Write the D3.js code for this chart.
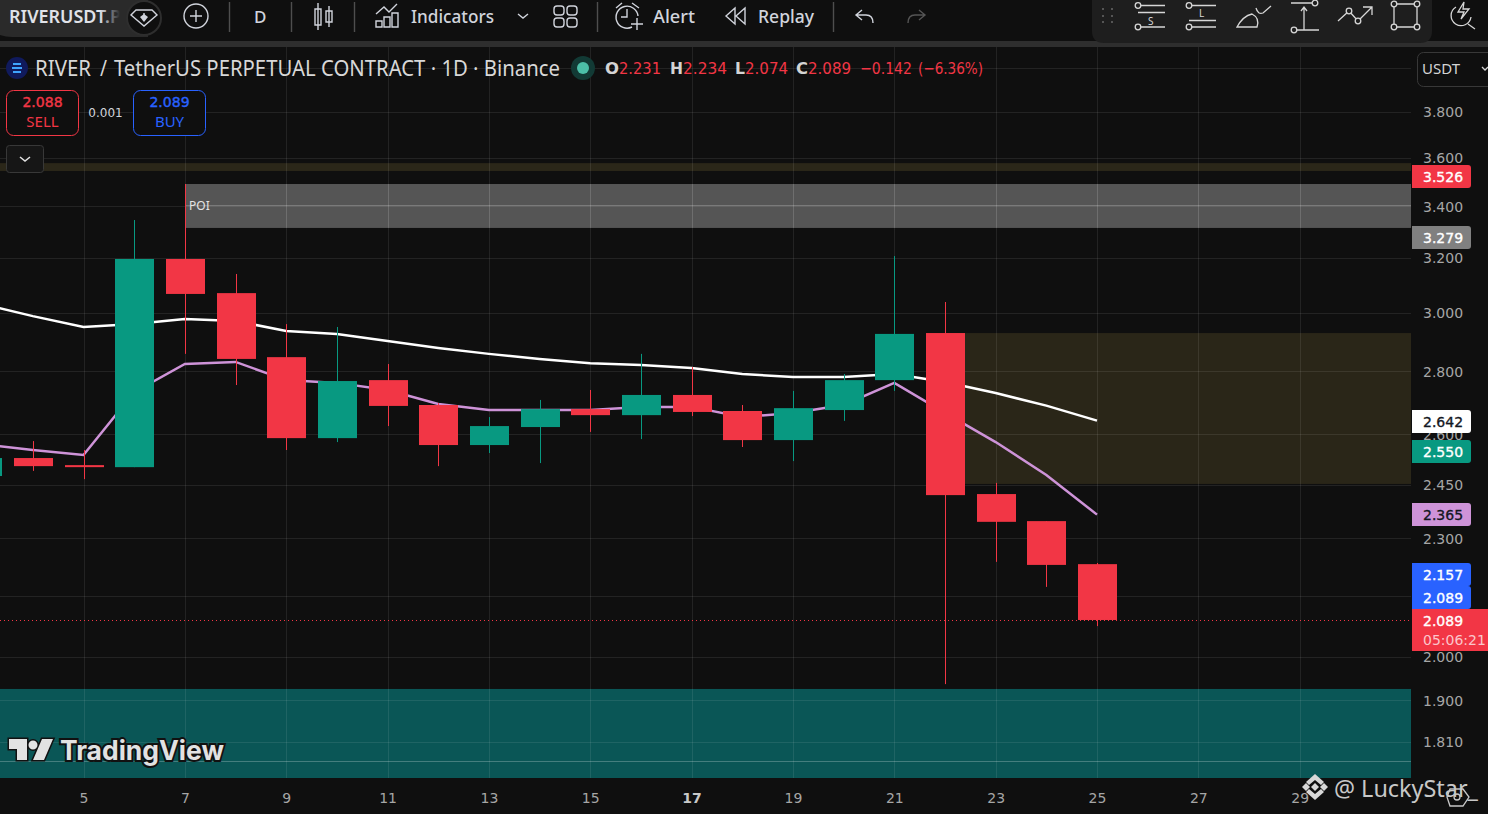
<!DOCTYPE html>
<html>
<head>
<meta charset="utf-8">
<title>RIVERUSDT.P</title>
<script src="https://cdn.jsdelivr.net/npm/d3@7"></script>
<style>
  html, body { margin: 0; padding: 0; background: #0f0f0f; overflow: hidden; }
  svg { display: block; font-family: "Noto Sans", sans-serif; }
  .num { font-family: "DejaVu Sans", sans-serif; }
</style>
</head>
<body>
<svg id="chart" width="1488" height="814"></svg>
<script>
// Daily candles
const days   = [3, 4, 5, 6, 7, 8, 9, 10, 11, 12, 13, 14, 15, 16, 17, 18, 19, 20, 21, 22, 23, 24, 25];
const opens  = [2.475, 2.528, 2.507, 2.501, 3.196, 3.070, 2.847, 2.588, 2.771, 2.691, 2.567, 2.622, 2.678, 2.659, 2.723, 2.672, 2.582, 2.675, 2.771, 2.929, 2.423, 2.347, 2.231];
const highs  = [2.528, 2.579, 2.552, 3.346, 3.491, 3.140, 2.960, 2.950, 2.824, 2.697, 2.653, 2.707, 2.739, 2.858, 2.814, 2.691, 2.736, 2.791, 3.207, 3.038, 2.455, 2.347, 2.234];
const lows   = [2.475, 2.490, 2.466, 2.501, 2.858, 2.755, 2.552, 2.576, 2.625, 2.504, 2.543, 2.513, 2.607, 2.585, 2.656, 2.561, 2.519, 2.641, 2.736, 1.937, 2.237, 2.172, 2.074];
const closes = [2.528, 2.504, 2.501, 3.196, 3.067, 2.841, 2.588, 2.768, 2.688, 2.567, 2.625, 2.678, 2.659, 2.723, 2.669, 2.582, 2.681, 2.771, 2.926, 2.420, 2.345, 2.229, 2.089];

// Moving averages
const slowMa = [3.031, 2.988, 2.950, 2.960, 2.978, 2.971, 2.936, 2.926, 2.902, 2.878, 2.858, 2.841, 2.827, 2.821, 2.811, 2.791, 2.781, 2.781, 2.791, 2.765, 2.729, 2.689, 2.642];
const fastMa = [2.570, 2.552, 2.537, 2.732, 2.824, 2.831, 2.771, 2.762, 2.739, 2.694, 2.675, 2.675, 2.675, 2.685, 2.685, 2.653, 2.666, 2.691, 2.762, 2.666, 2.576, 2.478, 2.365];

// Axes
const priceTicks = [3.8, 3.6, 3.4, 3.2, 3.0, 2.8, 2.6, 2.45, 2.3, 2.0, 1.9, 1.81];
const gridPrices = [4.0, 3.8, 3.6, 3.4, 3.2, 3.0, 2.8, 2.6, 2.45, 2.3, 2.15, 2.0, 1.9, 1.81];
const dayTicks = [5, 7, 9, 11, 13, 15, 17, 19, 21, 23, 25, 27, 29];

// Zones as [top price, bottom price, first day]
const bandZone = [3.578, 3.545];
const poiZone = [3.491, 3.315, 7];
const supplyZone = [2.929, 2.452, 22];
const demandZone = [1.926, 1.734];
const poiMid = 3.400;
const demandLine = 1.77;
const lastPrice = 2.089;

// Price tags on the right scale
const tagPrices = ["3.526", "3.279", "2.642", "2.550", "2.365", "2.157", "2.089"];
const tagFills  = ["#f23645", "#808080", "#ffffff", "#089981", "#ce93d8", "#2962ff", "#2962ff"];
const tagInk    = ["#fff", "#fff", "#131722", "#fff", "#131722", "#fff", "#fff"];
const tagTops   = [165, 226, 410, 440, 503, 563, 586];

// Title pieces, laid out the way the header spaces them
const titleParts = ["RIVER", "/", "TetherUS PERPETUAL CONTRACT · 1D · Binance"];
const titleX = [35, 100, 114];
const titleW = [56, 7, 446];

const RED = "#f23645", GREEN = "#089981", INK = "#d1d4dc", PLOT_R = 1411;

const svg = d3.select("#chart");
const x = d3.scaleLinear().domain([5, 25]).range([83.5, 1097]);
const y = d3.scaleLog().domain([3.8, 1.81]).range([112, 741.7]);
const px = d => Math.round(x(d)) + 0.5;

svg.append("rect").attr("width", 1488).attr("height", 814).attr("fill", "#0f0f0f");
const defs = svg.append("defs");
defs.append("clipPath").attr("id", "plot")
  .append("rect").attr("x", 0).attr("y", 47).attr("width", PLOT_R).attr("height", 731);
const fade = defs.append("linearGradient").attr("id", "tickerFade").attr("gradientUnits", "userSpaceOnUse")
  .attr("x1", 100).attr("x2", 120).attr("y1", 0).attr("y2", 0);
fade.append("stop").attr("offset", 0).attr("stop-color", "#2a2a2a").attr("stop-opacity", 0);
fade.append("stop").attr("offset", 1).attr("stop-color", "#2a2a2a").attr("stop-opacity", 1);

const plot = svg.append("g").attr("clip-path", "url(#plot)");

// zones go under the grid so the grid still shows through them
function zone(top, bottom, fromX, fill) {
  plot.append("rect").attr("x", fromX).attr("width", PLOT_R - fromX)
    .attr("y", y(top)).attr("height", y(bottom) - y(top)).attr("fill", fill);
}
zone(bandZone[0], bandZone[1], 0, "#2b2719");
zone(poiZone[0], poiZone[1], px(poiZone[2]), "#555555");
zone(supplyZone[0], supplyZone[1], x(supplyZone[2]), "#2a2618");
zone(demandZone[0], demandZone[1], 0, "#0a5656");

plot.selectAll(".hgrid").data(gridPrices).enter().append("line").attr("class", "hgrid")
  .attr("x1", 0).attr("x2", PLOT_R)
  .attr("y1", d => Math.round(y(d)) + 0.5).attr("y2", d => Math.round(y(d)) + 0.5)
  .attr("stroke", "#fff").attr("stroke-opacity", 0.085);
plot.selectAll(".vgrid").data(dayTicks).enter().append("line").attr("class", "vgrid")
  .attr("x1", px).attr("x2", px)
  .attr("y1", 47).attr("y2", 778)
  .attr("stroke", "#fff").attr("stroke-opacity", 0.085);
// the grey box lifts the grid a little more than the dark background does
plot.selectAll(".poigrid").data(dayTicks.filter(d => d > poiZone[2])).enter().append("line").attr("class", "poigrid")
  .attr("x1", px).attr("x2", px)
  .attr("y1", y(poiZone[0])).attr("y2", y(poiZone[1]))
  .attr("stroke", "#fff").attr("stroke-opacity", 0.07);

plot.append("line").attr("x1", px(poiZone[2])).attr("x2", PLOT_R)
  .attr("y1", Math.round(y(poiMid)) - 0.5).attr("y2", Math.round(y(poiMid)) - 0.5)
  .attr("stroke", "#fff").attr("stroke-opacity", 0.22);
plot.append("line").attr("x1", 0).attr("x2", PLOT_R)
  .attr("y1", Math.round(y(demandLine)) + 0.5).attr("y2", Math.round(y(demandLine)) + 0.5)
  .attr("stroke", "#fff").attr("stroke-opacity", 0.24);

plot.append("text").attr("x", px(poiZone[2]) + 3.5).attr("y", 209.5)
  .attr("font-size", 12).attr("fill", "#e4e4e4").text("POI");

// last price
plot.append("line").attr("x1", 0).attr("x2", PLOT_R)
  .attr("y1", Math.round(y(lastPrice)) + 0.5).attr("y2", Math.round(y(lastPrice)) + 0.5)
  .attr("stroke", RED).attr("stroke-width", 1).attr("stroke-dasharray", "1 3");

// moving averages
const maLine = d3.line().x((d, i) => x(days[i])).y(d => y(d));
plot.append("path").attr("d", maLine(slowMa)).attr("fill", "none").attr("stroke", "#ffffff").attr("stroke-width", 2.5);
plot.append("path").attr("d", maLine(fastMa)).attr("fill", "none").attr("stroke", "#ce93d8").attr("stroke-width", 2.5);

// candles
const bodyW = 39;
const candles = plot.selectAll(".candle").data(days).enter().append("g").attr("class", "candle");
candles.append("line")
  .attr("x1", px).attr("x2", px)
  .attr("y1", (d, i) => y(highs[i])).attr("y2", (d, i) => y(lows[i]))
  .attr("stroke", (d, i) => closes[i] >= opens[i] ? GREEN : RED);
candles.append("rect")
  .attr("x", d => px(d) - bodyW / 2).attr("width", bodyW)
  .attr("y", (d, i) => y(Math.max(opens[i], closes[i])))
  .attr("height", (d, i) => Math.abs(y(opens[i]) - y(closes[i])))
  .attr("fill", (d, i) => closes[i] >= opens[i] ? GREEN : RED);

// axes
const priceAxis = svg.append("g").attr("class", "num").attr("transform", "translate(1423,0.5)")
  .call(d3.axisRight(y).tickValues(priceTicks).tickFormat(d3.format(".3f")).tickSize(0).tickPadding(0));
priceAxis.select(".domain").remove();
priceAxis.selectAll("text").attr("font-size", 14).attr("fill", "#a6a6a6");
priceAxis.attr("font-family", null);

const timeAxis = svg.append("g").attr("class", "num").attr("transform", "translate(0,793)")
  .call(d3.axisBottom(x).tickValues(dayTicks).tickFormat(d3.format("d")).tickSize(0).tickPadding(0));
timeAxis.select(".domain").remove();
timeAxis.selectAll("text").attr("font-size", 14)
  .attr("font-weight", d => d === 17 ? "bold" : null)
  .attr("fill", d => d === 17 ? "#c8c8c8" : "#a6a6a6");
timeAxis.attr("font-family", null);

// price tags
const tags = svg.selectAll(".tag").data(tagPrices).enter().append("g").attr("class", "tag num");
tags.append("path")
  .attr("d", (d, i) => `M1412 ${tagTops[i]}H1468q3 0 3 3V${tagTops[i] + 20}q0 3 -3 3H1412Z`)
  .attr("fill", (d, i) => tagFills[i]);
tags.append("text").attr("x", 1423).attr("y", (d, i) => tagTops[i] + 17)
  .attr("font-size", 14).attr("stroke-width", 0.35)
  .attr("stroke", (d, i) => tagInk[i]).attr("fill", (d, i) => tagInk[i]).text(d => d);

svg.append("rect").attr("x", 1412).attr("y", 609).attr("width", 76).attr("height", 42).attr("fill", RED);
svg.append("text").attr("class", "num").attr("x", 1423).attr("y", 626).attr("font-size", 14).attr("fill", "#fff")
  .attr("stroke", "#fff").attr("stroke-width", 0.35).text("2.089");
svg.append("text").attr("class", "num").attr("x", 1423).attr("y", 645).attr("font-size", 14).attr("fill", "#fbc6cb").text("05:06:21");

// top bar
svg.append("rect").attr("width", 1488).attr("height", 41).attr("fill", "#0f0f0f");
svg.append("rect").attr("y", 41).attr("width", 1488).attr("height", 6).attr("fill", "#2e2e2e");
svg.append("path").attr("d", "M-10 0H148V37H12Q0 37 -10 30Z").attr("fill", "#2a2a2a");
svg.append("text").attr("x", 9).attr("y", 23).attr("font-size", 17).attr("font-weight", 600).attr("fill", "#e0e2e8")
  .attr("textLength", 112).attr("lengthAdjust", "spacingAndGlyphs").text("RIVERUSDT.P");
svg.append("rect").attr("x", 100).attr("y", 4).attr("width", 24).attr("height", 26).attr("fill", "url(#tickerFade)");
svg.append("circle").attr("cx", 144).attr("cy", 18).attr("r", 17).attr("fill", "#0f0f0f").attr("stroke", "#2e2e2e").attr("stroke-width", 2);

function label(txt, lx, ly, size, fill, len) {
  const t = svg.append("text").attr("x", lx).attr("y", ly).attr("font-size", size).attr("fill", fill).text(txt);
  if (len) t.attr("textLength", len).attr("lengthAdjust", "spacingAndGlyphs");
  return t;
}
label("D", 254, 23, 17, INK).attr("font-weight", 500);
label("Indicators", 411, 23, 18, INK, 83).attr("font-weight", 500);
label("Alert", 653, 23, 18, INK, 42).attr("font-weight", 500);
label("Replay", 758, 23, 18, INK, 56).attr("font-weight", 500);

// toolbar icons
svg.append("path").attr("d", "M229.5 2V32M291.5 2V32M354.5 2V32M597.5 2V32M833.5 2V32")
  .attr("fill", "none").attr("stroke", "#4e4e4e").attr("stroke-width", 1.4);
svg.append("g").attr("fill", "none").attr("stroke", INK).attr("stroke-width", 1.4).selectAll("path").data([
  "M136 10H152L157 15L144 26L131 15Z", "M144 13V19",
  "M184 16a12 12 0 1 0 24 0a12 12 0 1 0 -24 0", "M196 10V22M190 16H202",
  "M318 3V30M315 9H321V25H315ZM329 6V27M326 11H332V22H326Z",
  "M376 14L384 7L389 12L397 4M376 27V21H382V27ZM384 27V17H390V27ZM392 27V13H398V27Z",
  "M518 14L523 18L528 14",
  "M557 6H561q3 0 3 3V12q0 3 -3 3H557q-3 0 -3 -3V9q0 -3 3 -3ZM570 6H574q3 0 3 3V12q0 3 -3 3H570q-3 0 -3 -3V9q0 -3 3 -3ZM557 18H561q3 0 3 3V24q0 3 -3 3H557q-3 0 -3 -3V21q0 -3 3 -3ZM570 18H574q3 0 3 3V24q0 3 -3 3H570q-3 0 -3 -3V21q0 -3 3 -3Z",
  "M632 27A11 11 0 1 1 638 16", "M627 9V17H621", "M616 8L622 3M632 3L639 8", "M637 18V30M631 24H643",
  "M735 8L726 16L735 24ZM745 8L736 16L745 24Z",
  "M862 10L856 15L862 20M856 15H866Q873 15 873 23"
]).enter().append("path").attr("d", d => d);
svg.append("path").attr("d", "M144 14L148 17L144 22L140 17Z").attr("fill", INK);
svg.append("path").attr("d", "M919 10L925 15L919 20M925 15H915Q908 15 908 23").attr("fill", "none").attr("stroke", "#555").attr("stroke-width", 1.4);

// floating drawing toolbar
svg.append("path").attr("d", "M1092 0H1432V31Q1432 43 1420 43H1104Q1092 43 1092 31Z").attr("fill", "#1e1e1e");
const gripX = [1103, 1112], gripY = [9, 16, 22];
gripX.forEach(gx => gripY.forEach(gy => svg.append("rect").attr("x", gx - 1).attr("y", gy - 1).attr("width", 2).attr("height", 2).attr("fill", "#555")));
svg.append("g").attr("fill", "none").attr("stroke", "#d6d6d6").attr("stroke-width", 1.3).selectAll("path").data([
  "M1141 5.5H1165M1138 12.5H1165M1141 27H1165", "M1192 5.5H1216M1189 20.5H1216M1192 27H1216",
  "M1237 27Q1243 16 1252 14Q1260 18 1257 27ZM1256 8Q1258 15 1263 13L1271 6",
  "M1291 3H1312M1297 30H1319M1304 30V7M1301 11L1304 7L1307 11",
  "M1338 21L1349 11L1358 21L1372 7M1363 7H1372V15",
  "M1394 4H1417V27H1394Z",
  "M1456 7A10 10 0 1 0 1471 17M1468 24L1475 29M1464 2L1458 12H1464L1461 19L1469 9H1463Z"
]).enter().append("path").attr("d", d => d);
const knobs = [[1138, 5.5], [1138, 27], [1189, 5.5], [1189, 27], [1315, 3], [1294, 30], [1349, 11], [1358, 21], [1394, 4], [1417, 4], [1394, 27], [1417, 27]];
svg.append("g").selectAll("circle").data(knobs).enter().append("circle")
  .attr("cx", d => d[0]).attr("cy", d => d[1]).attr("r", 2.8).attr("fill", "#1e1e1e").attr("stroke", "#d6d6d6").attr("stroke-width", 1.3);
label("S", 1148, 25, 10, "#d6d6d6");
label("L", 1199, 17, 10, "#d6d6d6");

// legend row
svg.append("circle").attr("cx", 17).attr("cy", 68).attr("r", 11).attr("fill", "#101a5c");
svg.append("path").attr("d", "M13 64H21M12 68H22M13 72H21").attr("stroke", "#3fa4ff").attr("stroke-width", 2);
svg.selectAll(".title").data(titleParts).enter().append("text").attr("class", "title")
  .attr("x", (d, i) => titleX[i]).attr("y", 76).attr("font-size", 22).attr("fill", "#d8d8d8")
  .attr("textLength", (d, i) => titleW[i]).attr("lengthAdjust", "spacingAndGlyphs").text(d => d);
svg.append("circle").attr("cx", 583).attr("cy", 68).attr("r", 12).attr("fill", "#123a35");
svg.append("circle").attr("cx", 583).attr("cy", 68).attr("r", 6).attr("fill", "#4cbfa8");

const ohlcText = ["O", "2.231", "H", "2.234", "L", "2.074", "C", "2.089", "−0.142", "(−6.36%)"];
const ohlcX = [605, 619, 670, 683, 735, 745, 796, 808, 860, 918];
const ohlcW = [14, 42, 13, 44, 10, 43, 12, 43, 52, 65];
svg.selectAll(".ohlc").data(ohlcText).enter().append("text").attr("class", "ohlc num")
  .attr("x", (d, i) => ohlcX[i]).attr("y", 74).attr("font-size", 16)
  .attr("textLength", (d, i) => ohlcW[i]).attr("lengthAdjust", "spacingAndGlyphs")
  .attr("font-weight", (d, i) => i < 8 && i % 2 === 0 ? 600 : 400)
  .attr("fill", (d, i) => i < 8 && i % 2 === 0 ? "#d4d4d4" : RED).text(d => d);

// sell / buy buttons
function button(bx, color, price, word) {
  svg.append("rect").attr("x", bx + 0.5).attr("y", 90.5).attr("width", 72).attr("height", 45).attr("rx", 7)
    .attr("fill", "#0f0f0f").attr("stroke", color);
  svg.append("text").attr("class", "num").attr("x", bx + 36.5).attr("y", 107).attr("text-anchor", "middle")
    .attr("font-size", 14).attr("stroke", color).attr("stroke-width", 0.4).attr("fill", color).text(price);
  svg.append("text").attr("x", bx + 36.5).attr("y", 127).attr("text-anchor", "middle")
    .attr("font-size", 15).attr("fill", color).text(word);
}
button(6, RED, "2.088", "SELL");
button(133, "#2962ff", "2.089", "BUY");
svg.append("text").attr("class", "num").attr("x", 105.5).attr("y", 117).attr("text-anchor", "middle")
  .attr("font-size", 12).attr("fill", INK).text("0.001");
svg.append("rect").attr("x", 6.5).attr("y", 145.5).attr("width", 37).attr("height", 27).attr("rx", 3)
  .attr("fill", "#161616").attr("stroke", "#383838");
svg.append("path").attr("d", "M20 157L25 161L30 157").attr("fill", "none").attr("stroke", "#e0e0e0").attr("stroke-width", 1.6);

// currency box
svg.append("rect").attr("x", 1417.5).attr("y", 52.5).attr("width", 90).attr("height", 34).attr("rx", 6)
  .attr("fill", "#0f0f0f").attr("stroke", "#383838");
label("USDT", 1422, 74, 15, "#d4d4d4");
svg.append("path").attr("d", "M1482 67L1485 70L1488 67").attr("fill", "none").attr("stroke", "#d4d4d4").attr("stroke-width", 1.3);

// TradingView mark
svg.append("path").attr("d", "M9 739H27V760H17V749H9ZM42 739H53L44 760H33Z M28.5 745a4.5 4.5 0 1 0 9 0a4.5 4.5 0 1 0 -9 0Z")
  .attr("fill", "#e2e2e2").attr("stroke", "#111").attr("stroke-width", 3).attr("paint-order", "stroke");
svg.append("text").attr("x", 60).attr("y", 760).attr("font-family", "Inter").attr("font-size", 27).attr("font-weight", 700)
  .attr("fill", "#e2e2e2").attr("stroke", "#111").attr("stroke-width", 4).attr("paint-order", "stroke")
  .attr("textLength", 164).attr("lengthAdjust", "spacingAndGlyphs").text("TradingView");

// Binance watermark
svg.append("path").attr("d", "M1315 783L1319 787L1315 791L1311 787ZM1306 783L1310 787L1306 791L1302 787ZM1324 783L1328 787L1324 791L1320 787ZM1315 774L1324 782L1321 785L1315 780L1309 785L1306 782ZM1315 800L1306 792L1309 789L1315 794L1321 789L1324 792Z")
  .attr("fill", "#d8d8d8");
label("@ LuckyStar_", 1334, 797, 24, "#c8c8c8", 144);
svg.append("path").attr("d", "M1450 789H1463L1469 797L1463 806H1450L1447 797Z M1454 797a3 3 0 1 0 6 0a3 3 0 1 0 -6 0Z")
  .attr("fill", "none").attr("stroke", "#c8c8c8").attr("stroke-width", 1.3);
</script>
</body>
</html>
